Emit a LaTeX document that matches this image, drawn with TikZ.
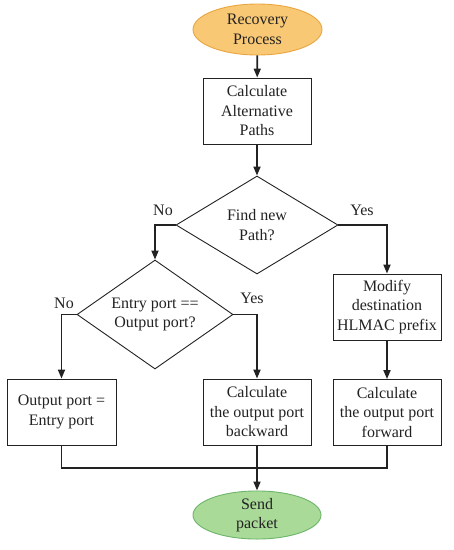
\documentclass[tikz,border=0pt]{standalone}
\usepackage{fontspec}
\setmainfont{Liberation Serif}
\usetikzlibrary{shapes.geometric,arrows.meta}
\definecolor{orfill}{HTML}{F9C874}
\definecolor{ordraw}{HTML}{E9A53F}
\definecolor{grfill}{HTML}{A9DA98}
\definecolor{grdraw}{HTML}{6DB56A}
\definecolor{ink}{HTML}{222222}
\begin{document}
\begin{tikzpicture}[x=1pt,y=-1pt,
 txt/.style={font=\fontsize{16}{19.5}\selectfont, align=center, text=ink},
 procbox/.style={txt, draw=ink, line width=0.9pt, minimum width=108pt, minimum height=66pt, inner sep=0pt},
 decision/.style={txt, draw=ink, diamond, line width=0.9pt, inner sep=0pt, shape aspect=1.5},
 term/.style={txt, ellipse, line width=0.9pt, inner sep=0pt},
 flow/.style={draw=ink, line width=1.7pt, -{Triangle[length=9pt,width=7pt]}},
 joinline/.style={draw=ink, line width=1.7pt},
 lbl/.style={font=\fontsize{16}{19}\selectfont, text=ink, inner sep=0pt}]
\useasboundingbox (0,0) rectangle (454,550);
\node[term, fill=orfill, draw=ordraw, minimum width=129pt, minimum height=51pt] (start) at (257.5,29.5) {Recovery\\Process};
\node[procbox] (calc) at (257,111) {Calculate\\Alternative\\Paths};
\node[decision, minimum width=162pt, minimum height=98pt] (find) at (257,225) {Find new\\Path?};
\node[decision, minimum width=156pt, minimum height=109pt] (entry) at (155,314.5) {Entry port ==\\Output port?};
\node[procbox] (modify) at (387,307) {Modify\\destination\\HLMAC prefix};
\node[procbox, minimum width=109pt] (outeq) at (61.5,412) {Output port =\\Entry port};
\node[procbox] (bwd) at (257,412) {Calculate\\the output port\\backward};
\node[procbox] (fwd) at (387,412.5) {Calculate\\the output port\\forward};
\node[term, fill=grfill, draw=grdraw, minimum width=128pt, minimum height=48pt] (send) at (257,515) {Send\\packet};
\coordinate (m) at (257,468);
\node[lbl] (no1) at (163,210) {No};
\node[lbl] (yes1) at (362,210) {Yes};
\node[lbl] (no2) at (64,303) {No};
\node[lbl] (yes2) at (252,298) {Yes};
\draw[flow] (start) -- (calc);
\draw[flow] (calc) -- (find);
\draw[flow] (find.west) -| (entry.north);
\draw[flow] (find.east) -| (modify.north);
\draw[flow] (modify) -- (fwd);
\draw[flow] (entry.west) -| (outeq.north);
\draw[flow] (entry.east) -| (bwd.north);
\draw[joinline] (outeq.south) |- (m) -| (fwd.south);
\draw[joinline] (bwd.south) -- (m);
\draw[flow] (m) -- (send);
\end{tikzpicture}
\end{document}
